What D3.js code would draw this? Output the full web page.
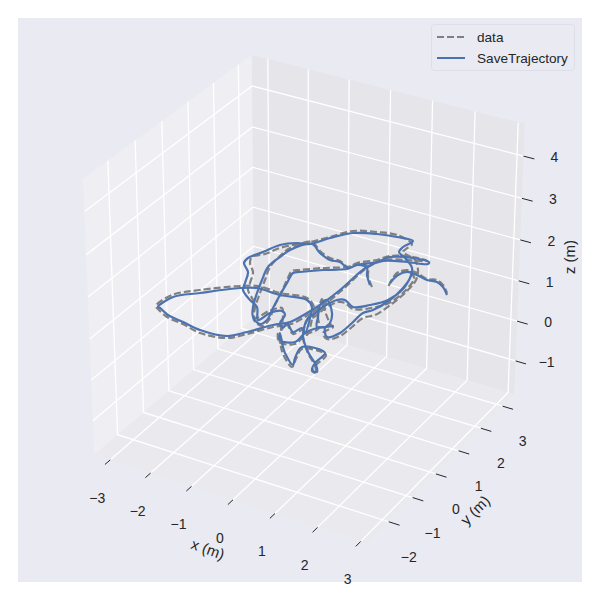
<!DOCTYPE html>
<html>
<head>
<meta charset="utf-8">
<script src="https://cdnjs.cloudflare.com/ajax/libs/d3/7.8.5/d3.min.js"></script>
<style>
body { margin: 0; background: #fff; }
text { font-family: "Liberation Sans", Arial, sans-serif; fill: #262626; }
</style>
</head>
<body>
<script>
var xTicks = [-3, -2, -1, 0, 1, 2, 3];
var yTicks = [-2, -1, 0, 1, 2, 3];
var zTicks = [-1, 0, 1, 2, 3, 4];
var xLim = [-3.4, 3.15], yLim = [-2.88, 3.55], zLim = [-1.85, 4.75];
var seriesNames = ["data", "SaveTrajectory"];

// trajectories as seen in the picture plane, so in view units and not x, y, z
var blueU = [.70,.67,.67,.58,.47,.23,0,-.07,-.13,-.20,-.27,-.33,-.40,-.47,-.47,-.43,-.38,-.32,-.20,-.10,.12,.20,.30,.40,.48,.57,.77,.90,1.13,1.29,1.28,1.07,.83,.67,.40,.23,.07,-.10,-.27,-.53,-.73,-1.00,-1.17,-1.32,-1.40,-1.42,-1.27,-1.00,-.60,-.43,-.20,.07,.12,.10,.05,.02,-.07,-.13,-.17,-.20,-.15,-.18,-.30,-.42,-.43,-.50,-.57,-.55,-.52,-.56,-.52,-.37,-.20,-.03,.10,.30,.53,.77,.97,1.13,1.03,.99,1.05,1.12,1.10,1.03,.90,.73,.63,.52,.40,.27,.25,.30,.32,.27,.20,.18,.17,.33,.17,.05,-.05,-.20,-.20,-.17,-.15,-.07,-.05,.02,.25,.15,.12,.17,.16,.08,.03,.08,.13,.23,.37,.45,.53,.70,.88,1.03,1.10,1.12,1.07,.98,.90,.98,1.07,1.17,1.27,1.37,1.43,1.47];
var blueV = [.15,.25,.32,.35,.31,.30,.28,.27,.17,.05,-.08,-.20,-.24,-.17,-.07,.07,.20,.33,.43,.50,.56,.47,.40,.38,.32,.35,.38,.43,.42,.38,.36,.38,.39,.33,.10,-.03,-.13,-.22,-.25,-.32,-.36,-.30,-.22,-.15,-.08,-.07,.03,.07,.12,.12,.05,0,-.07,-.18,-.33,-.28,-.32,-.23,-.28,-.23,-.15,-.11,-.13,-.20,-.07,0,.10,.17,.28,.37,.42,.48,.55,.57,.56,.62,.67,.66,.63,.59,.53,.48,.42,.32,.22,.12,0,-.10,-.13,-.23,-.33,-.37,-.28,-.23,-.13,0,-.05,-.17,-.27,-.26,-.28,-.33,-.42,-.40,-.33,-.47,-.53,-.65,-.58,-.47,-.53,-.63,-.70,-.72,-.65,-.52,-.35,-.18,-.15,-.07,0,0,-.07,-.05,0,.11,.22,.27,.28,.25,.17,.25,.28,.25,.20,.18,.13,.05];
var grayU = [.72,.68,.68,.58,.47,.23,0,-.08,-.13,-.19,-.26,-.31,-.38,-.46,-.45,-.40,-.35,-.30,-.19,-.10,.12,.20,.30,.40,.48,.57,.77,.90,1.13,1.27,1.07,.83,.68,.41,.24,.08,-.09,-.27,-.53,-.73,-1.00,-1.17,-1.33,-1.42,-1.44,-1.28,-1.00,-.60,-.42,-.20,.07,.14,.12,.07,.03,-.07,-.13,-.19,-.18,-.17,-.18,-.31,-.45,-.46,-.47,-.52,-.50,-.47,-.50,-.48,-.35,-.20,-.03,.10,.30,.53,.77,.97,1.12,1.06,1.03,1.15,1.18,1.16,1.08,.93,.75,.63,.52,.40,.27,.23,.33,.31,.26,.22,.18,.19,.05,-.05,-.21,-.22,-.19,-.17,-.08,-.04,.02,.26,.16,.12,.16,.15,.08,.03,.08,.14,.24,.38,.45,.53,.71,.89,1.05,1.14,1.13,1.07,.97,.88,.97,1.07,1.17,1.27,1.37,1.43,1.47];
var grayV = [.13,.24,.33,.36,.33,.32,.30,.29,.20,.07,-.07,-.20,-.26,-.20,-.08,.07,.20,.33,.45,.52,.58,.49,.42,.39,.33,.37,.40,.44,.43,.39,.40,.40,.33,.09,-.05,-.15,-.24,-.27,-.34,-.38,-.33,-.24,-.17,-.09,-.06,.05,.10,.14,.14,.07,.02,-.07,-.19,-.35,-.30,-.34,-.25,-.30,-.25,-.15,-.08,-.11,-.18,-.07,0,.10,.17,.28,.37,.43,.46,.52,.56,.58,.63,.69,.68,.65,.56,.51,.48,.40,.30,.20,.10,-.03,-.15,-.18,-.27,-.36,-.39,-.33,-.27,-.25,-.14,.01,-.17,-.28,-.35,-.44,-.42,-.33,-.47,-.54,-.67,-.59,-.49,-.55,-.65,-.71,-.73,-.66,-.53,-.37,-.19,-.17,-.09,-.02,-.03,-.09,-.08,-.03,.09,.21,.25,.29,.27,.13,.27,.30,.27,.21,.20,.15,.07];

var width = 600, height = 600;
var elev = 30 * Math.PI / 180, azim = -60 * Math.PI / 180, dist = 10;

var sx = d3.scaleLinear().domain(xLim).range([-0.5, 0.5]);
var sy = d3.scaleLinear().domain(yLim).range([-0.5, 0.5]);
var sz = d3.scaleLinear().domain(zLim).range([-0.5, 0.5]);
var viewX = d3.scaleLinear().domain([-0.0919, 0.0871]).range([18, 582]);
var viewY = d3.scaleLinear().domain([-0.0924, 0.0866]).range([582, 18]);
var picU = d3.scaleLinear().domain([-3, 3]).range([0, width]);
var picV = d3.scaleLinear().domain([-3, 3]).range([height, 0]);

var w = [Math.cos(elev) * Math.cos(azim), Math.cos(elev) * Math.sin(azim), Math.sin(elev)];
var u = [-Math.sin(azim), Math.cos(azim), 0];
var v = [w[1] * u[2] - w[2] * u[1], w[2] * u[0] - w[0] * u[2], w[0] * u[1] - w[1] * u[0]];

function dot(a, b) { return a[0] * b[0] + a[1] * b[1] + a[2] * b[2]; }
function project(x, y, z) {
  var p = [sx(x), sy(y), sz(z)];
  var d = dist - dot(p, w);
  return [viewX(dot(p, u) / d), viewY(dot(p, v) / d)];
}

var svg = d3.select("body").append("svg").attr("width", width).attr("height", height);
svg.append("rect").attr("x", 18).attr("y", 18).attr("width", 564).attr("height", 564).attr("fill", "#EAEAF2");

var link = d3.line();

// panes
var panes = [
  { c: "#EFEFF3", pts: [[xLim[0], yLim[0], zLim[0]], [xLim[0], yLim[1], zLim[0]], [xLim[0], yLim[1], zLim[1]], [xLim[0], yLim[0], zLim[1]]] },
  { c: "#E5E5EA", pts: [[xLim[0], yLim[1], zLim[0]], [xLim[1], yLim[1], zLim[0]], [xLim[1], yLim[1], zLim[1]], [xLim[0], yLim[1], zLim[1]]] },
  { c: "#EAEAEE", pts: [[xLim[0], yLim[0], zLim[0]], [xLim[1], yLim[0], zLim[0]], [xLim[1], yLim[1], zLim[0]], [xLim[0], yLim[1], zLim[0]]] }
];
svg.selectAll("path.pane").data(panes).join("path")
  .attr("class", "pane")
  .attr("fill", d => d.c)
  .attr("d", d => link(d.pts.map(p => project(p[0], p[1], p[2]))) + "Z");

// grid lines, each one runs along two panes
function grid(pts) {
  svg.append("path").attr("fill", "none").attr("stroke", "#fff").attr("stroke-width", 1.3)
    .attr("d", link(pts.map(p => project(p[0], p[1], p[2]))));
}
function tick(a, b) {
  var p = project(a[0], a[1], a[2]), q = project(b[0], b[1], b[2]);
  svg.append("line").attr("x1", p[0]).attr("y1", p[1]).attr("x2", q[0]).attr("y2", q[1])
    .attr("stroke", "#262626").attr("stroke-width", 1);
}
function label(t, a, dx, dy) {
  var p = project(a[0], a[1], a[2]);
  svg.append("text").attr("x", p[0] + dx).attr("y", p[1] + dy)
    .attr("text-anchor", "middle").attr("dominant-baseline", "central")
    .attr("font-size", 14).text(String(t).replace("-", "\u2212"));
}

xTicks.forEach(function(t) {
  grid([[t, yLim[0], zLim[0]], [t, yLim[1], zLim[0]], [t, yLim[1], zLim[1]]]);
  tick([t, yLim[0], zLim[0]], [t, yLim[0] - 0.2, zLim[0]]);
  label(t, [t, yLim[0], zLim[0]], -13, 38);
});
yTicks.forEach(function(t) {
  grid([[xLim[1], t, zLim[0]], [xLim[0], t, zLim[0]], [xLim[0], t, zLim[1]]]);
  tick([xLim[1], t, zLim[0]], [xLim[1] + 0.25, t, zLim[0]]);
  label(t, [xLim[1], t, zLim[0]], 20, 35);
});
zTicks.forEach(function(t) {
  grid([[xLim[0], yLim[0], t], [xLim[0], yLim[1], t], [xLim[1], yLim[1], t]]);
  tick([xLim[1], yLim[1], t], [xLim[1] + 0.25, yLim[1], t]);
  label(t, [xLim[1], yLim[1], t], 31, 1);
});

// trajectories
var trace = d3.line().x(d => picU(d[0])).y(d => picV(d[1])).curve(d3.curveCatmullRom.alpha(0.5));
svg.append("path").attr("fill", "none").attr("stroke", "#808080").attr("stroke-width", 2.2)
  .attr("stroke-dasharray", "7,3")
  .attr("d", trace(d3.zip(grayU, grayV)));
svg.append("path").attr("fill", "none").attr("stroke", "#4C72B0").attr("stroke-width", 2.2)
  .attr("d", trace(d3.zip(blueU, blueV)));

// axis titles
function title(t, x, y, r) {
  svg.append("text").attr("transform", "translate(" + x + "," + y + ") rotate(" + r + ")")
    .attr("text-anchor", "middle").attr("dominant-baseline", "central")
    .attr("font-size", 15).text(t);
}
title("x (m)", 208, 549, 20);
title("y (m)", 475, 510, -45);
title("z (m)", 569, 257, -90);

// legend
var lg = svg.append("g");
lg.append("rect").attr("x", 431.5).attr("y", 24.5).attr("width", 143).attr("height", 46).attr("rx", 3)
  .attr("fill", "#EAEAF2").attr("stroke", "#DEDEE6");
seriesNames.forEach(function(name, i) {
  var yy = 37 + i * 21;
  lg.append("line").attr("x1", 437).attr("x2", 465).attr("y1", yy).attr("y2", yy)
    .attr("stroke", i ? "#4C72B0" : "#808080").attr("stroke-width", 2)
    .attr("stroke-dasharray", i ? null : "7,3");
  lg.append("text").attr("x", 477).attr("y", yy).attr("dominant-baseline", "central")
    .attr("font-size", 13.6).text(name);
});
</script>
</body>
</html>
